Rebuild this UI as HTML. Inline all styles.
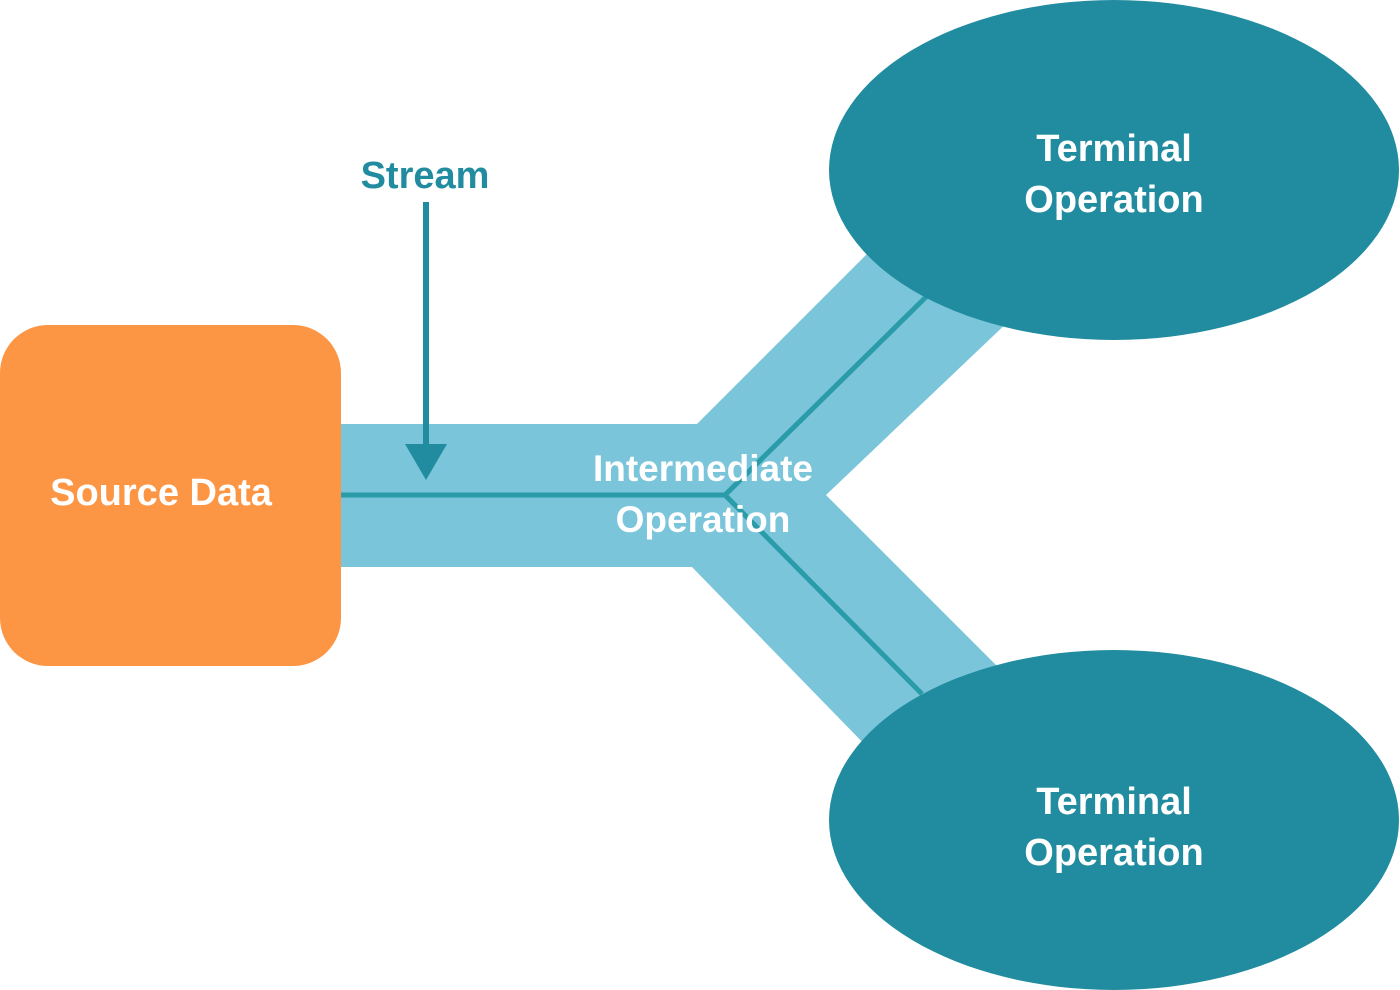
<!DOCTYPE html>
<html><head><meta charset="utf-8"><style>
html,body{margin:0;padding:0;background:#fff;}
svg{display:block;}
text{font-family:"Liberation Sans",sans-serif;font-weight:bold;}
</style></head><body>
<svg width="1400" height="990" viewBox="0 0 1400 990" xmlns="http://www.w3.org/2000/svg">
<rect width="1400" height="990" fill="#fff"/>
<polygon points="330,424 697,424 880,241 1012,318 826,495 1008,677 872,752 692,567 330,567" fill="#7ac5da"/>
<polyline points="330,495 725,495 927,296" fill="none" stroke="#2a9ba8" stroke-width="5"/>
<line x1="725" y1="495" x2="922" y2="694" stroke="#2a9ba8" stroke-width="5"/>
<rect x="0" y="325" width="341" height="341" rx="48" ry="48" fill="#fd9644"/>
<ellipse cx="1114" cy="170" rx="285" ry="170" fill="#218c9f"/>
<ellipse cx="1114" cy="820" rx="285" ry="170" fill="#218c9f"/>
<line x1="426" y1="202" x2="426" y2="448" stroke="#218c9f" stroke-width="6"/>
<polygon points="405,444 447,444 426,480" fill="#218c9f"/>
<text x="425" y="188" font-size="38" fill="#218c9f" text-anchor="middle">Stream</text>
<text x="161" y="505" font-size="38" fill="#fff" text-anchor="middle">Source Data</text>
<text x="703" y="481" font-size="37" fill="#fff" text-anchor="middle">Intermediate</text>
<text x="703" y="532" font-size="37" fill="#fff" text-anchor="middle">Operation</text>
<text x="1114" y="161" font-size="38" fill="#fff" text-anchor="middle">Terminal</text>
<text x="1114" y="212" font-size="38" fill="#fff" text-anchor="middle">Operation</text>
<text x="1114" y="814" font-size="38" fill="#fff" text-anchor="middle">Terminal</text>
<text x="1114" y="865" font-size="38" fill="#fff" text-anchor="middle">Operation</text>
</svg>
</body></html>
